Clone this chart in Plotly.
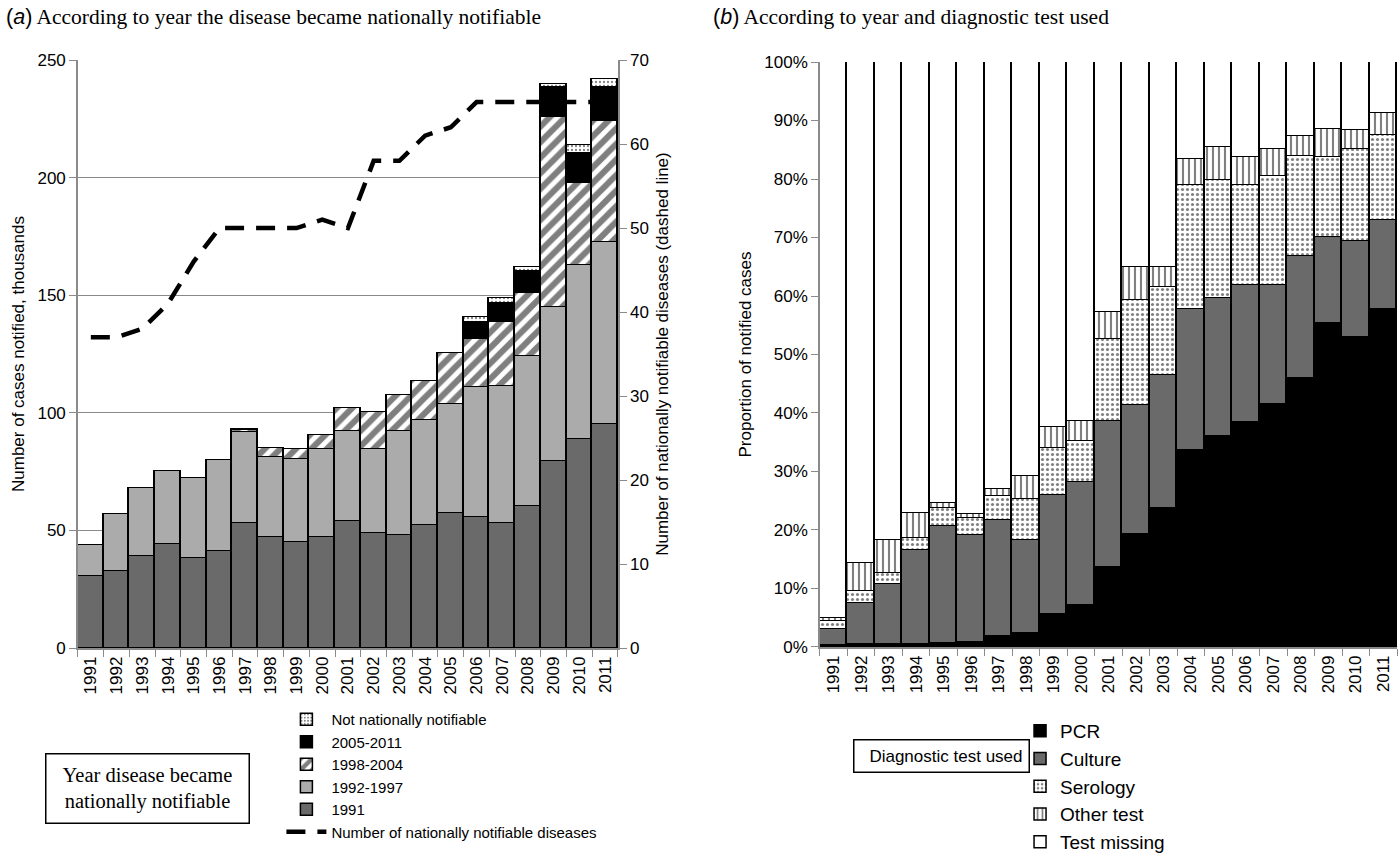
import plotly.graph_objects as go

years = [str(y) for y in range(1991, 2012)]

# Panel (a): cases notified (thousands) by year disease became notifiable
y1991 = [30.7, 32.9, 39.3, 44.1, 38.4, 41.1, 53.0, 47.1, 44.9, 47.3, 54.1, 48.8, 48.0, 52.3, 57.3, 55.6, 53.3, 60.4, 79.6, 88.7, 95.2]
y9297 = [13.0, 23.9, 28.9, 31.3, 33.9, 39.0, 38.7, 34.0, 35.6, 37.3, 38.3, 35.8, 44.4, 44.5, 46.3, 55.4, 58.1, 63.7, 65.5, 74.1, 77.6]
y9804 = [None, None, None, None, None, None, 1.0, 3.9, 4.0, 5.8, 9.5, 15.7, 15.0, 16.6, 21.7, 20.2, 27.4, 27.0, 80.8, 35.0, 51.4]
y0511 = [None, None, None, None, None, None, None, None, None, None, None, None, None, None, None, 7.6, 8.0, 9.0, 12.5, 12.5, 14.5]
y_not = [None, None, None, None, None, None, 0.6, None, None, None, None, None, None, None, None, 2.1, 1.9, 1.7, 1.2, 3.6, 3.1]
n_diseases = [37, 37, 38, 41, 46, 50, 50, 50, 50, 51, 50, 58, 58, 61, 62, 65, 65, 65, 65, 65, 65]

# Panel (b): proportion of notified cases (%) by diagnostic test
pcr = [0.3, 0.5, 0.5, 0.5, 0.6, 0.8, 1.9, 2.4, 5.6, 7.1, 13.7, 19.4, 23.8, 33.6, 36.0, 38.4, 41.6, 46.0, 55.3, 53.0, 57.7]
culture = [2.8, 7.0, 10.2, 16.1, 20.1, 18.4, 19.8, 15.9, 20.4, 21.1, 24.9, 22.0, 22.7, 24.1, 23.6, 23.4, 20.2, 20.8, 14.8, 16.4, 15.3]
serology = [1.3, 2.0, 2.0, 2.1, 3.1, 2.9, 4.1, 7.0, 8.0, 7.0, 14.0, 18.0, 15.1, 21.2, 20.2, 17.1, 18.7, 17.1, 13.6, 15.7, 14.5]
other = [0.6, 4.9, 5.6, 4.2, 0.8, 0.7, 1.2, 4.0, 3.6, 3.5, 4.6, 5.6, 3.4, 4.5, 5.7, 4.8, 4.6, 3.4, 4.8, 3.2, 3.7]
missing = [95.0, 85.6, 81.7, 77.1, 75.4, 77.2, 73.0, 70.7, 62.4, 61.3, 42.8, 35.0, 35.0, 16.6, 14.5, 16.3, 14.9, 12.7, 11.5, 11.7, 8.8]

SANS = "Liberation Sans"
SERIF = "Liberation Serif"
OUT = dict(color="black", width=1.5)

fig = go.Figure()

def bar(name, vals, xa, ya, color, legend, rank, pattern=None):
    m = dict(color=color, line=OUT)
    if pattern:
        m["pattern"] = pattern
    fig.add_trace(go.Bar(x=years, y=vals, name=name, xaxis=xa, yaxis=ya,
                         marker=m, legend=legend, legendrank=rank))

bar("1991", y1991, "x", "y", "#6a6a6a", "legend", 5)
bar("1992-1997", y9297, "x", "y", "#ababab", "legend", 4)
bar("1998-2004", y9804, "x", "y", "white", "legend", 3,
    dict(shape="/", fgcolor="black", bgcolor="white", size=11, solidity=0.55))
bar("2005-2011", y0511, "x", "y", "black", "legend", 2)
bar("Not nationally notifiable", y_not, "x", "y", "white", "legend", 1,
    dict(shape=".", fgcolor="black", bgcolor="white", size=4, solidity=0.25))

fig.add_trace(go.Scatter(x=years, y=n_diseases, mode="lines", xaxis="x", yaxis="y3",
                         name="Number of nationally notifiable diseases",
                         line=dict(color="black", width=4.5, dash="19px,12px"),
                         legend="legend", legendrank=6))

bar("PCR", pcr, "x2", "y2", "black", "legend2", 1)
bar("Culture", culture, "x2", "y2", "#6a6a6a", "legend2", 2)
bar("Serology", serology, "x2", "y2", "white", "legend2", 3,
    dict(shape=".", fgcolor="black", bgcolor="white", size=5, solidity=0.3))
bar("Other test", other, "x2", "y2", "white", "legend2", 4,
    dict(shape="|", fgcolor="black", bgcolor="white", size=6, solidity=0.35))
bar("Test missing", missing, "x2", "y2", "white", "legend2", 5)

GRAY = "#8a8a8a"
tickf = dict(family=SANS, size=17, color="black")
xcommon = dict(type="category", tickangle=-90, tickson="boundaries", ticks="outside",
               ticklen=7, tickcolor=GRAY, showline=True, linecolor=GRAY, linewidth=1.5,
               tickfont=tickf, showgrid=False, automargin=False)
ttl = dict(family=SANS, size=17, color="black")

fig.update_layout(
    width=1400, height=854,
    margin=dict(l=0, r=0, t=0, b=0, autoexpand=False),
    paper_bgcolor="white", plot_bgcolor="white",
    barmode="stack", bargap=0,
    xaxis=dict(domain=[0.0557, 0.4414], anchor="y", **xcommon),
    yaxis=dict(domain=[0.2412, 0.9297], anchor="x", range=[0, 250], dtick=50,
               showgrid=True, gridcolor=GRAY, gridwidth=1.2, zeroline=False,
               showline=True, linecolor=GRAY, linewidth=1.5, ticks="outside",
               ticklen=7, tickcolor=GRAY, tickfont=tickf, automargin=False,
               title=dict(text="Number of cases notified, thousands", font=ttl, standoff=8)),
    yaxis3=dict(overlaying="y", side="right", anchor="x", range=[0, 70], dtick=10,
                showgrid=False, zeroline=False, showline=True, linecolor=GRAY,
                linewidth=1.5, ticks="outside", ticklen=7, tickcolor=GRAY, tickfont=tickf,
                automargin=False,
                title=dict(text="Number of nationally notifiable diseases (dashed line)",
                           font=ttl, standoff=8)),
    xaxis2=dict(domain=[0.5857, 0.9979], anchor="y2", **xcommon),
    yaxis2=dict(domain=[0.2424, 0.9274], anchor="x2", range=[0, 100], dtick=10,
                ticksuffix="%", showgrid=False, zeroline=False, showline=True,
                linecolor=GRAY, linewidth=1.5, ticks="outside", ticklen=7,
                tickcolor=GRAY, tickfont=tickf, automargin=False,
                title=dict(text="Proportion of notified cases", font=ttl, standoff=8)),
    legend=dict(x=0.201, y=1 - 703 / 854, xanchor="left", yanchor="top", traceorder="normal",
                font=dict(family=SANS, size=15, color="black"), itemwidth=40,
                tracegroupgap=0, bgcolor="rgba(0,0,0,0)"),
    legend2=dict(x=0.7286, y=1 - 712 / 854, xanchor="left", yanchor="top", traceorder="normal",
                 font=dict(family=SANS, size=19, color="black"),
                 tracegroupgap=0, bgcolor="rgba(0,0,0,0)"),
    annotations=[
        dict(xref="paper", yref="paper", x=0.003, y=0.997, xanchor="left", yanchor="top",
             showarrow=False, align="left",
             text='<span style="font-family:Liberation Sans">(<i>a</i>)</span> According to year the disease became nationally notifiable',
             font=dict(family=SERIF, size=21.5, color="black")),
        dict(xref="paper", yref="paper", x=0.508, y=0.997, xanchor="left", yanchor="top",
             showarrow=False, align="left",
             text='<span style="font-family:Liberation Sans">(<i>b</i>)</span> According to year and diagnostic test used',
             font=dict(family=SERIF, size=21.5, color="black")),
        dict(xref="paper", yref="paper", x=147 / 1400, y=1 - 788 / 854,
             xanchor="center", yanchor="middle", showarrow=False, align="center",
             text="Year disease became<br>nationally notifiable",
             font=dict(family=SERIF, size=20.5, color="black"),
             bordercolor="black", borderwidth=1.5, borderpad=9, width=184,
             bgcolor="white"),
        dict(xref="paper", yref="paper", x=941 / 1400, y=1 - 756 / 854,
             xanchor="center", yanchor="middle", showarrow=False, align="right",
             text="Diagnostic test used",
             font=dict(family=SANS, size=17, color="black"),
             bordercolor="black", borderwidth=1.5, borderpad=6, width=162,
             bgcolor="white"),
    ],
)

fig.write_html("out.html")
